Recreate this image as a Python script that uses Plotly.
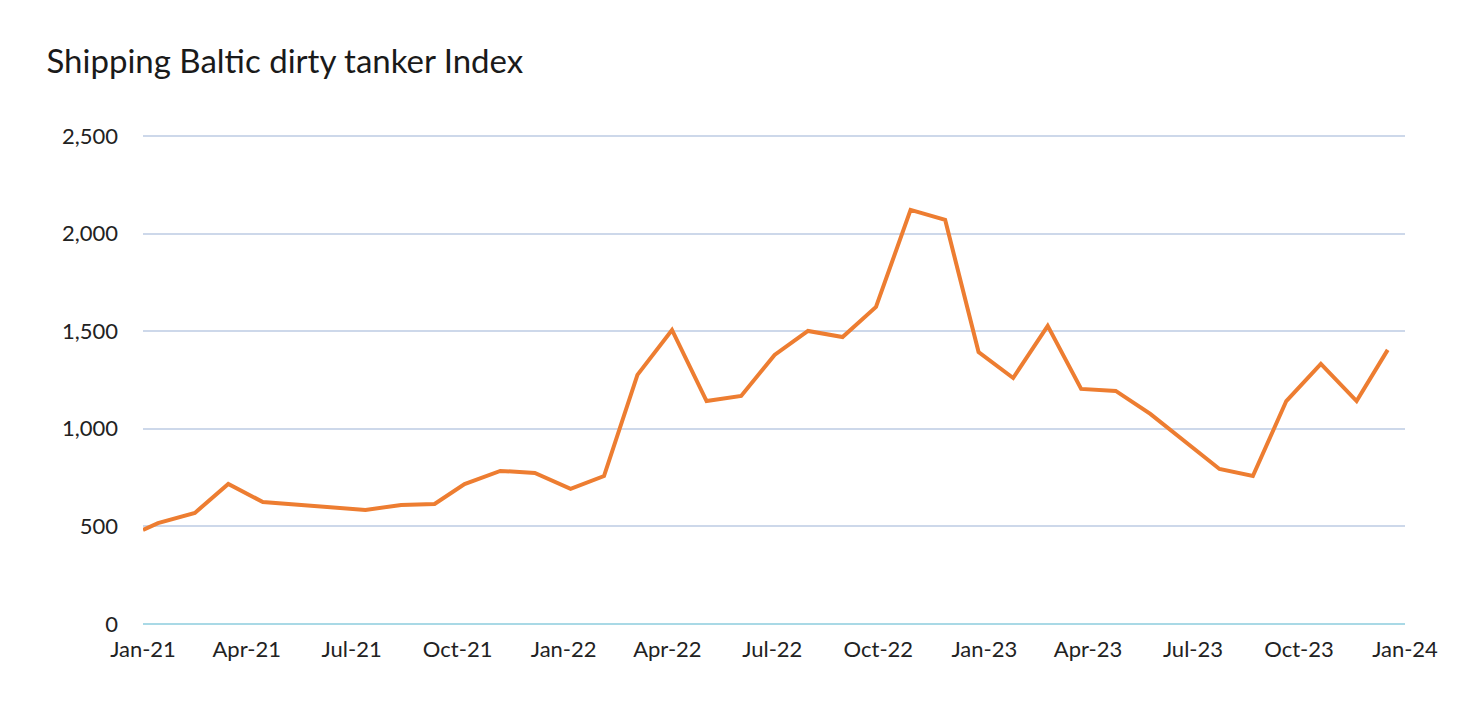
import plotly.graph_objects as go

dates = ["2021-01-01", "2021-01-14", "2021-02-15", "2021-03-16", "2021-04-15", "2021-05-15",
         "2021-06-15", "2021-07-13", "2021-08-13", "2021-09-11", "2021-10-07", "2021-11-07",
         "2021-12-07", "2022-01-07", "2022-02-05", "2022-03-06", "2022-04-05", "2022-05-05",
         "2022-06-04", "2022-07-03", "2022-08-01", "2022-08-31", "2022-09-29", "2022-10-29",
         "2022-11-28", "2022-12-27", "2023-01-26", "2023-02-25", "2023-03-26", "2023-04-25",
         "2023-05-25", "2023-06-23", "2023-07-24", "2023-08-22", "2023-09-20", "2023-10-20",
         "2023-11-20", "2023-12-17"]
index_values = [482, 517, 569, 717, 625, 610, 594, 584, 610, 615, 717, 784,
                774, 692, 758, 1276, 1506, 1142, 1168, 1378, 1501, 1470, 1624, 2121,
                2070, 1393, 1260, 1527, 1204, 1194, 1076, 937, 794, 758, 1142, 1332,
                1142, 1404]

fig = go.Figure()
fig.add_trace(go.Scatter(x=dates, y=index_values, mode="lines",
                         line=dict(color="#ED7D31", width=4), cliponaxis=False))

fig.update_layout(
    width=1480, height=718,
    plot_bgcolor="white", paper_bgcolor="white",
    font=dict(family="Lato", size=22, color="#222222"),
    title=dict(text="Shipping Baltic dirty tanker Index", x=0.026, y=0.926,
               xanchor="left", yanchor="middle", font=dict(size=33, color="#1a1a1a")),
    margin=dict(l=135, r=83, t=124, b=102),
    showlegend=False,
    xaxis=dict(range=["2021-01-01", "2024-01-01"], dtick="M3", tick0="2021-01-01",
               tickformat="%b-%y", showgrid=False, ticks="", zeroline=False,
               automargin=False, ticklabelstandoff=10),
    yaxis=dict(range=[0, 2520], tickvals=[0, 500, 1000, 1500, 2000, 2500],
               tickformat=",", gridcolor="#cdd8ea", gridwidth=1.5,
               zeroline=True, zerolinecolor="#a9d9e6", zerolinewidth=1.5,
               ticks="", ticklabelstandoff=24, automargin=False),
)

fig.write_html("out.html")
